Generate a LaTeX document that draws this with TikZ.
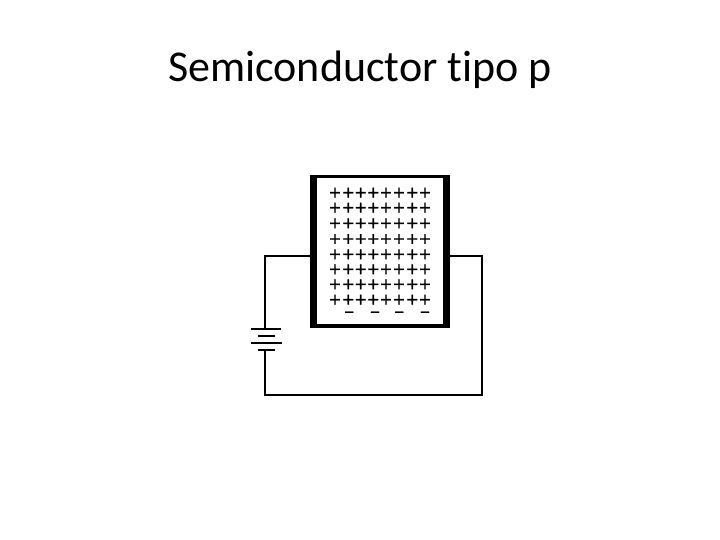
\documentclass[tikz,border=0pt]{standalone}
\usepackage{fontspec}
\setmainfont[RawFeature={-liga;-clig}]{Carlito}
\newfontfamily\signfont[FakeBold=1.2]{DejaVu Sans}
\tikzset{
  wire/.style={draw=black,line width=2pt},
  bat/.style={draw=black,line width=1.4pt},
  batthick/.style={draw=black,line width=2.4pt},
  titletext/.style={font=\fontsize{44}{52}\selectfont,text=black,inner sep=0pt,anchor=base},
  outerblock/.style={fill=black,draw=none,minimum width=140pt,minimum height=153pt,inner sep=0pt},
  innerblock/.style={fill=white,draw=none,minimum width=126pt,minimum height=146pt,inner sep=0pt},
  plussign/.style={font=\signfont\fontsize{15.5}{15.5}\selectfont,text=black,inner sep=0pt},
  minussign/.style={font=\signfont\fontsize{13}{13}\selectfont,text=black,inner sep=0pt}
}
\begin{document}
\begin{tikzpicture}[x=1pt,y=-1pt]
\useasboundingbox[fill=white] (0,0) rectangle (720,540);
\node[titletext] (title) at (360,82) {Semiconductor tipo p};
\node[outerblock] (block) at (380,251.5) {};
\node[innerblock] (inner) at (380,251) {};
\foreach \y [count=\j] in {192.7,207.7,223.3,239,254.3,269.3,284.3,299.7}
  \foreach \x [count=\i] in {335,348.3,360.7,373.3,386,399,412.3,425}
    \node[plussign] (p\i-\j) at (\x,\y) {+};
\foreach \x [count=\i] in {349.3,375,399.3,425}
  \node[minussign] (m\i) at (\x,314) {−};
\coordinate (tl) at (265.3,256);
\coordinate (tr) at (482,256);
\coordinate (bl) at (265.3,395);
\coordinate (br) at (482,395);
\coordinate (b1) at (265.3,329);
\coordinate (b4) at (265.3,350);
\coordinate (blockL) at (310,256);
\coordinate (blockR) at (450,256);
\draw[wire,line join=miter] (blockL) -- (tl) -- (b1);
\draw[wire,line join=miter] (b4) -- (bl) -- (br) -- (tr) -- (blockR);
\draw[bat] (250.5,329) -- (281,329);
\draw[batthick] (258,335.7) -- (275,335.7);
\draw[batthick] (251,342.7) -- (282,342.7);
\draw[bat] (258,350) -- (275,350);
\end{tikzpicture}
\end{document}
